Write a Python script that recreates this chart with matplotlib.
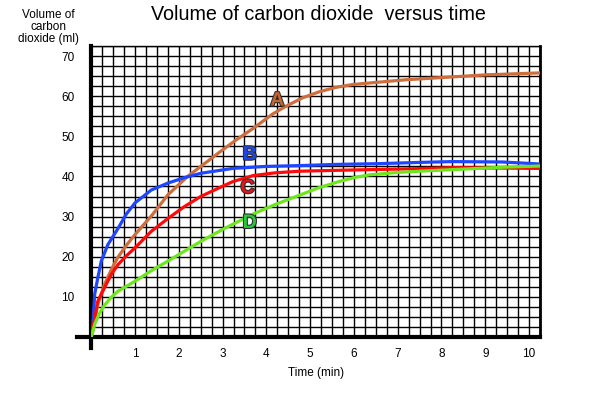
import numpy as np
import matplotlib.pyplot as plt
import matplotlib.patheffects as pe

plt.rcParams['font.family'] = ['Liberation Sans', 'DejaVu Sans']

# readings: time (min), volume (ml)
a_t = [0, 0.04, 0.08, 0.15, 0.3, 0.46, 0.6, 0.8, 1.0, 1.4, 1.75, 2.2, 2.6, 2.95, 3.31, 3.69, 4.15, 4.45,
       4.83, 5.21, 5.59, 5.97, 6.58, 7.2, 8.25, 9.0, 10.25]
a_v = [0, 1.5, 4, 8.1, 13, 16.8, 19.7, 22.8, 25.5, 30.5, 35.4, 40, 43.3, 46.2, 49.1, 51.9, 55.6, 57.5,
       59.6, 61.1, 62.2, 62.9, 63.5, 64.1, 64.8, 65.3, 65.8]

b_t = [0, 0.04, 0.08, 0.15, 0.23, 0.38, 0.61, 0.8, 1.0, 1.37, 1.74, 2.13, 2.51, 3.23, 4.0, 4.75, 5.6,
       6.6, 7.5, 8.25, 9.4, 10.25]
b_v = [0, 3.2, 10.7, 14.7, 18.9, 23, 27, 30.6, 33.4, 36.6, 38.3, 39.7, 40.8, 42, 42.5, 42.7, 43.0,
       43.2, 43.5, 43.7, 43.6, 43.1]

c_t = [0, 0.04, 0.15, 0.3, 0.46, 0.61, 0.8, 1.0, 1.37, 1.75, 2.13, 2.5, 2.93, 3.23, 3.69, 4.2, 4.75,
       5.5, 6.35, 7.3, 8.25, 10.25]
c_v = [0, 2.3, 8.9, 12.2, 15.6, 18, 20.2, 22.2, 26.3, 29.5, 32.5, 35.0, 37.2, 38.7, 40.2, 40.9, 41.3,
       41.5, 41.7, 41.9, 42.2, 42]

d_t = [0, 0.04, 0.08, 0.19, 0.3, 0.46, 0.61, 1.0, 1.37, 1.75, 2.13, 2.5, 3.0, 3.69, 4.2, 4.75, 5.2,
       5.65, 6.0, 6.35, 7.0, 7.5, 8.25, 9.4, 10.25]
d_v = [0, 1.5, 3.2, 5.9, 7.9, 9.9, 11.4, 13.9, 16.5, 18.9, 21.4, 23.8, 26.8, 30.6, 33.0, 35.3, 37.2,
       38.7, 39.7, 40.4, 41.0, 41.3, 41.7, 42.3, 42.6]

names = ['A', 'B', 'C', 'D']
line_colors = ['#cd6e3c', '#1e46ff', '#ff0a0a', '#6ee61e']
text_colors = ['#c8642d', '#1e46e6', '#e61414', '#28c83c']
label_pos = [(4.25, 58.8), (3.62, 45.3), (3.57, 37.0), (3.62, 28.3)]

x_ticks = list(range(1, 11))
y_ticks = list(range(10, 71, 10))

fig = plt.figure(figsize=(6, 4), dpi=100)
ax = fig.add_axes([0.152, 0.1575, 0.748, 0.7275])

series = [(a_t, a_v), (b_t, b_v), (c_t, c_v), (d_t, d_v)]
for (t, v), col in zip(series, line_colors):
    ax.plot(t, v, color=col, lw=2.3, solid_capstyle='butt', solid_joinstyle='round', zorder=3)

for name, (x, y), col in zip(names, label_pos, text_colors):
    ax.text(x, y, name, color=col, fontsize=14, fontweight='bold',
            ha='center', va='center', zorder=4,
            path_effects=[pe.withStroke(linewidth=1.6, foreground='#333333')])

ax.set_xlim(0, 10.25)
ax.set_ylim(0, 72.5)
ax.set_xticks(x_ticks)
ax.set_yticks(y_ticks)
ax.set_xticks(np.arange(0, 10.26, 0.25), minor=True)
ax.set_yticks(np.arange(0, 72.6, 2.5), minor=True)
ax.grid(which='both', color='black', lw=1.0)
ax.set_axisbelow(True)
ax.tick_params(which='both', length=0, labelsize=8.5)
ax.tick_params(axis='y', pad=12)
ax.tick_params(axis='x', pad=8)

ax.spines['left'].set_linewidth(3)
ax.spines['left'].set_bounds(-2.7, 72.5)
ax.spines['bottom'].set_linewidth(3)
ax.spines['bottom'].set_bounds(-0.32, 10.25)
ax.spines['right'].set_linewidth(2)
ax.spines['top'].set_linewidth(1)

fig.text(0.53, 0.965, 'Volume of carbon dioxide  versus time', ha='center', va='center', fontsize=14.2)
fig.text(0.081, 0.932, 'Volume of\ncarbon\ndioxide (ml)', ha='center', va='center', fontsize=8.5, linespacing=1.0)
ax.set_xlabel('Time (min)', fontsize=8.5, labelpad=5)

fig.savefig('out.png', dpi=100)
